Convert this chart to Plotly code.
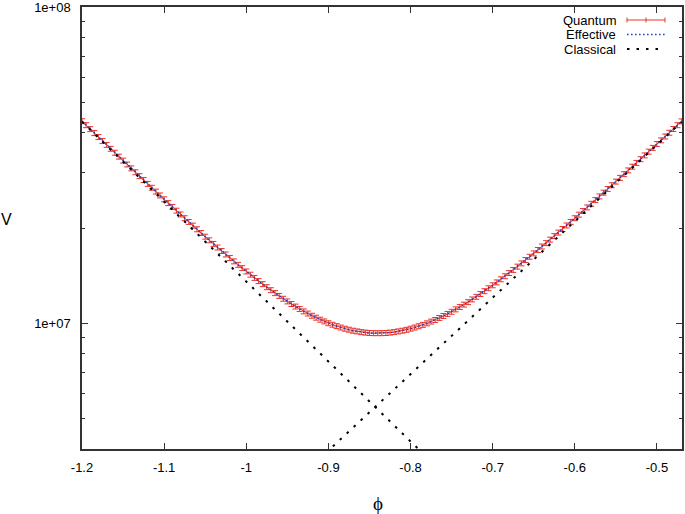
import plotly.graph_objects as go

# phi grid and potential (log scale), step 0.005
phi = [-1.200, -1.195, -1.190, -1.185, -1.180, -1.175, -1.170, -1.165, -1.160, -1.155,
       -1.150, -1.145, -1.140, -1.135, -1.130, -1.125, -1.120, -1.115, -1.110, -1.105,
       -1.100, -1.095, -1.090, -1.085, -1.080, -1.075, -1.070, -1.065, -1.060, -1.055,
       -1.050, -1.045, -1.040, -1.035, -1.030, -1.025, -1.020, -1.015, -1.010, -1.005,
       -1.000, -0.995, -0.990, -0.985, -0.980, -0.975, -0.970, -0.965, -0.960, -0.955,
       -0.950, -0.945, -0.940, -0.935, -0.930, -0.925, -0.920, -0.915, -0.910, -0.905,
       -0.900, -0.895, -0.890, -0.885, -0.880, -0.875, -0.870, -0.865, -0.860, -0.855,
       -0.850, -0.845, -0.840, -0.835, -0.830, -0.825, -0.820, -0.815, -0.810, -0.805,
       -0.800, -0.795, -0.790, -0.785, -0.780, -0.775, -0.770, -0.765, -0.760, -0.755,
       -0.750, -0.745, -0.740, -0.735, -0.730, -0.725, -0.720, -0.715, -0.710, -0.705,
       -0.700, -0.695, -0.690, -0.685, -0.680, -0.675, -0.670, -0.665, -0.660, -0.655,
       -0.650, -0.645, -0.640, -0.635, -0.630, -0.625, -0.620, -0.615, -0.610, -0.605,
       -0.600, -0.595, -0.590, -0.585, -0.580, -0.575, -0.570, -0.565, -0.560, -0.555,
       -0.550, -0.545, -0.540, -0.535, -0.530, -0.525, -0.520, -0.515, -0.510, -0.505,
       -0.500, -0.495, -0.490, -0.485, -0.480, -0.475, -0.470]

quantum_v = [4.355e7, 4.231e7, 4.111e7, 3.994e7, 3.882e7, 3.772e7, 3.665e7, 3.562e7, 3.462e7, 3.364e7,
             3.269e7, 3.178e7, 3.089e7, 3.003e7, 2.919e7, 2.838e7, 2.759e7, 2.682e7, 2.608e7, 2.536e7,
             2.466e7, 2.399e7, 2.333e7, 2.270e7, 2.208e7, 2.149e7, 2.091e7, 2.036e7, 1.982e7, 1.929e7,
             1.878e7, 1.829e7, 1.782e7, 1.736e7, 1.692e7, 1.650e7, 1.608e7, 1.569e7, 1.530e7, 1.494e7,
             1.458e7, 1.424e7, 1.391e7, 1.359e7, 1.329e7, 1.300e7, 1.272e7, 1.245e7, 1.220e7, 1.195e7,
             1.172e7, 1.150e7, 1.129e7, 1.109e7, 1.090e7, 1.073e7, 1.056e7, 1.041e7, 1.026e7, 1.013e7,
             1.000e7, 9.89e6, 9.79e6, 9.69e6, 9.61e6, 9.54e6, 9.47e6, 9.42e6, 9.37e6, 9.34e6,
             9.31e6, 9.30e6, 9.30e6, 9.30e6, 9.31e6, 9.34e6, 9.37e6, 9.42e6, 9.47e6, 9.53e6,
             9.61e6, 9.69e6, 9.78e6, 9.88e6, 9.99e6, 1.012e7, 1.024e7, 1.039e7, 1.054e7, 1.070e7,
             1.087e7, 1.106e7, 1.125e7, 1.145e7, 1.166e7, 1.189e7, 1.212e7, 1.237e7, 1.263e7, 1.290e7,
             1.318e7, 1.346e7, 1.377e7, 1.408e7, 1.441e7, 1.474e7, 1.510e7, 1.546e7, 1.584e7, 1.623e7,
             1.663e7, 1.705e7, 1.748e7, 1.792e7, 1.838e7, 1.886e7, 1.935e7, 1.986e7, 2.038e7, 2.092e7,
             2.148e7, 2.205e7, 2.264e7, 2.324e7, 2.387e7, 2.452e7, 2.518e7, 2.588e7, 2.658e7, 2.731e7,
             2.805e7, 2.883e7, 2.961e7, 3.043e7, 3.127e7, 3.214e7, 3.302e7, 3.395e7, 3.489e7, 3.586e7,
             3.687e7, 3.788e7, 3.895e7, 4.004e7, 4.115e7, 4.230e7, 4.349e7]

# effective curve sits on top of the quantum one
effective_v = quantum_v

# classical: two exponential branches (straight on log axis)
classical_left_phi = [-1.20, -0.75]
classical_left_v = [4.34e7, 3.16e6]
classical_right_phi = [-0.92, -0.47]
classical_right_v = [3.54e6, 4.33e7]

x_ticks = [-1.2, -1.1, -1.0, -0.9, -0.8, -0.7, -0.6, -0.5]
x_labels = ["-1.2", "-1.1", "-1", "-0.9", "-0.8", "-0.7", "-0.6", "-0.5"]
y_ticks = [1e7, 1e8]
y_labels = ["1e+07", "1e+08"]
y_minor = [4e6, 5e6, 6e6, 7e6, 8e6, 9e6, 2e7, 3e7, 4e7, 5e7, 6e7, 7e7, 8e7, 9e7]

RED = "rgb(238,52,40)"
BLUE = "rgb(40,60,190)"
AX = "#333333"
FONT = "Liberation Sans, Arial, sans-serif"

fig = go.Figure()

fig.add_trace(go.Scatter(
    x=phi, y=quantum_v, mode="lines", name="Quantum",
    line=dict(color=RED, width=1),
    error_y=dict(type="percent", value=1.8, color=RED, thickness=1, width=3),
))
fig.add_trace(go.Scatter(
    x=phi, y=effective_v, mode="lines", name="Effective",
    line=dict(color=BLUE, width=1.6, dash="1.6px,2.4px"),
))
for xs, ys in [(classical_left_phi, classical_left_v), (classical_right_phi, classical_right_v)]:
    fig.add_trace(go.Scatter(
        x=xs, y=ys, mode="lines", name="Classical",
        line=dict(color="black", width=2, dash="2.5px,7px"),
    ))

# gnuplot-style key, text on the left of the sample
def px_x(p):
    return (p - 82) / 600

def px_y(p):
    return (449 - p) / 442

rows = [("Quantum", 20), ("Effective", 34.5), ("Classical", 49)]
for text, py in rows:
    fig.add_annotation(x=px_x(618), y=px_y(py), xref="paper", yref="paper",
                       text=text, showarrow=False, xanchor="right", yanchor="middle",
                       font=dict(family=FONT, size=13, color="black"))

x0, x1 = px_x(627), px_x(665)
fig.add_shape(type="line", xref="paper", yref="paper", x0=x0, x1=x1,
              y0=px_y(20), y1=px_y(20), line=dict(color=RED, width=1))
for tx in [627, 646, 665]:
    fig.add_shape(type="line", xref="paper", yref="paper", x0=px_x(tx), x1=px_x(tx),
                  y0=px_y(17.5), y1=px_y(22.5), line=dict(color=RED, width=1))
fig.add_shape(type="line", xref="paper", yref="paper", x0=x0, x1=x1,
              y0=px_y(34.5), y1=px_y(34.5), line=dict(color=BLUE, width=1.6, dash="1.6px,2.4px"))
fig.add_shape(type="line", xref="paper", yref="paper", x0=x0, x1=x1,
              y0=px_y(49), y1=px_y(49), line=dict(color="black", width=2, dash="2.5px,7px"))

# axis titles
fig.add_annotation(x=px_x(6), y=px_y(220), xref="paper", yref="paper", text="V",
                   showarrow=False, xanchor="center", yanchor="middle",
                   font=dict(family=FONT, size=16, color="black"))
fig.add_annotation(x=px_x(378), y=px_y(503), xref="paper", yref="paper", text="\u03d5",
                   showarrow=False, xanchor="center", yanchor="middle",
                   font=dict(family="Liberation Serif, DejaVu Serif, serif", size=19, color="black"))

fig.update_layout(
    width=685, height=514,
    margin=dict(l=82, r=3, t=7, b=65),
    paper_bgcolor="white", plot_bgcolor="white",
    showlegend=False,
    font=dict(family=FONT, size=13, color="black"),
)
fig.update_xaxes(
    range=[-1.2, -0.4695], tickvals=x_ticks, ticktext=x_labels,
    ticks="inside", ticklen=6, tickwidth=1, tickcolor=AX,
    showline=True, linecolor=AX, linewidth=1.5, mirror="ticks",
    showgrid=False, zeroline=False, ticklabelstandoff=6, automargin=False,
)
fig.update_yaxes(
    type="log", range=[6.60206, 8.0002], tickvals=y_ticks, ticktext=y_labels,
    ticks="inside", ticklen=6, tickwidth=1, tickcolor=AX,
    showline=True, linecolor=AX, linewidth=1.5, mirror="ticks",
    showgrid=False, zeroline=False, ticklabelstandoff=7, automargin=False,
    ticklabeloverflow="allow",
    minor=dict(tickvals=y_minor, ticks="inside", ticklen=3.5, tickcolor=AX, showgrid=False),
)

fig.write_html("out.html", config={"displayModeBar": False},
               post_script="document.body.style.margin='0';")
